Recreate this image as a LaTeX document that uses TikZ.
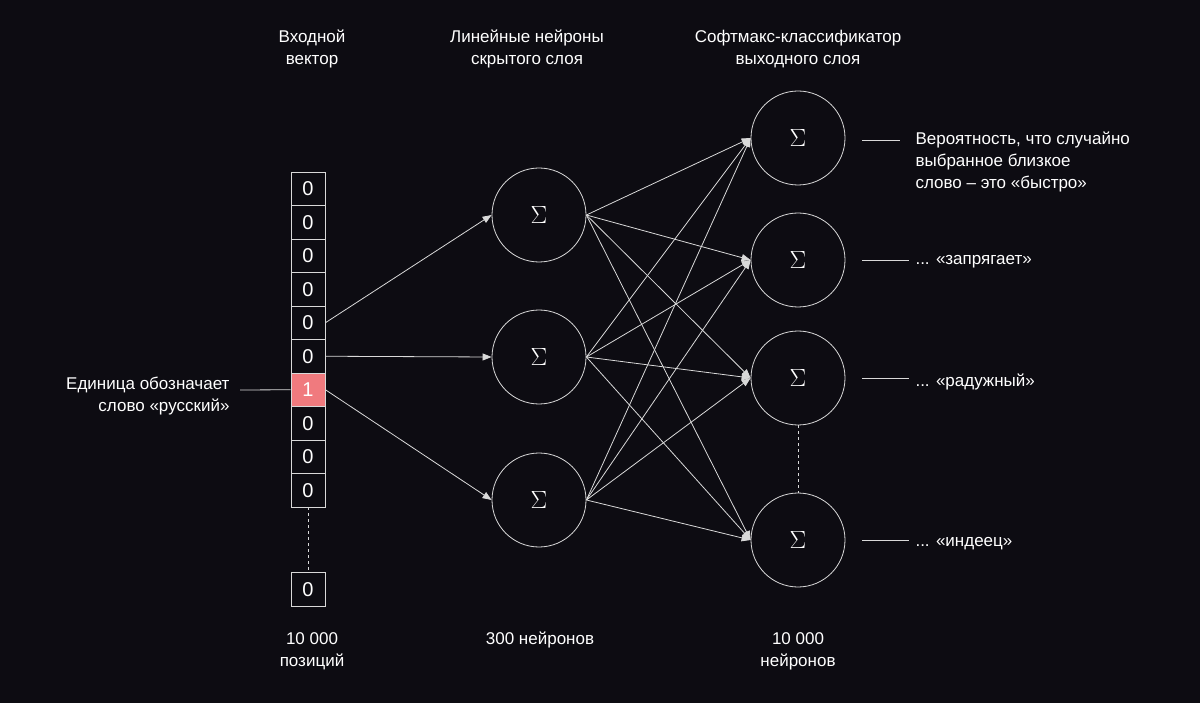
\documentclass[tikz,border=0pt]{standalone}
\usepackage{fontspec}
\setmainfont{Liberation Sans}
\usetikzlibrary{arrows.meta}
\definecolor{bg}{HTML}{0D0C12}
\definecolor{hot}{HTML}{F07A7E}
\tikzset{
 cell/.style={draw=white!85!black,line width=0.8pt,minimum width=34pt,minimum height=33.5pt,inner sep=0,text=white,font=\fontsize{20}{20}\selectfont},
 neuron/.style={circle,draw=white!85!black,line width=0.8pt,minimum size=94pt,inner sep=0,text=white,font=\fontsize{30}{30}\selectfont},
 txt/.style={text=white,font=\fontsize{17}{22}\selectfont,align=center},
 ln/.style={white!85!black,line width=0.8pt},
 arr/.style={ln,-{Triangle[length=9pt,width=7pt]}}
}
\begin{document}
\begin{tikzpicture}[x=1pt,y=-1pt]
\fill[bg] (0,0) rectangle (1200,703);
\useasboundingbox (0,0) rectangle (1200,703);
\foreach \i in {0,...,9}{
 \node[cell] (c\i) at (308,{188.75+33.5*\i}) {0};
}
\node[cell,fill=hot] (c6) at (308,{188.75+33.5*6}) {1};
\node[cell] (cl) at (308,589.5) {0};
\draw[ln,dashed] (c9.south) -- (cl.north);
\node[neuron] (h1) at (539,215) {$\Sigma$};
\node[neuron] (h2) at (539,357) {$\Sigma$};
\node[neuron] (h3) at (539,500) {$\Sigma$};
\node[neuron] (o1) at (798,138) {$\Sigma$};
\node[neuron] (o2) at (798,260) {$\Sigma$};
\node[neuron] (o3) at (798,378) {$\Sigma$};
\node[neuron] (o4) at (798,540) {$\Sigma$};
\draw[ln,dashed] (o3.south) -- (o4.north);
\draw[arr] (c4.east) -- (h1.west);
\draw[arr] (c5.east) -- (h2.west);
\draw[arr] (c6.east) -- (h3.west);
\foreach \h in {h1,h2,h3}{\foreach \o in {o1,o2,o3,o4}{\draw[arr] (\h.east) -- (\o.west);}}
\node[txt] (t1) at (312,49) {Входной\\вектор};
\node[txt] (t2) at (527,49) {Линейные нейроны\\скрытого слоя};
\node[txt] (t3) at (798,49) {Софтмакс-классификатор\\выходного слоя};
\node[txt] (b1) at (312,651) {10 000\\позиций};
\node[txt] (b2) at (540,640) {300 нейронов};
\node[txt] (b3) at (798,651) {10 000\\нейронов};
\coordinate (la) at (240,390);
\draw[ln] (la) -- (c6.west);
\node[txt,align=right,anchor=east] (lt) at (233,396) {Единица обозначает\\слово «русский»};
\foreach \o/\y/\t in {o2/262/{... «запрягает»},o3/382/{... «радужный»},o4/544/{... «индеец»}}{
 \coordinate (e\o) at ([xshift=64pt]\o.east);
 \draw[ln] ([xshift=17pt]\o.east) -- (e\o);
 \node[txt,anchor=west] at (912,\y) {\t};
}
\coordinate (eo1) at (900,140);
\draw[ln] (862,140) -- (eo1);
\node[txt,align=left,anchor=north west] (r1) at (912,128) {Вероятность, что случайно\\выбранное близкое\\слово – это «быстро»};
\end{tikzpicture}
\end{document}
